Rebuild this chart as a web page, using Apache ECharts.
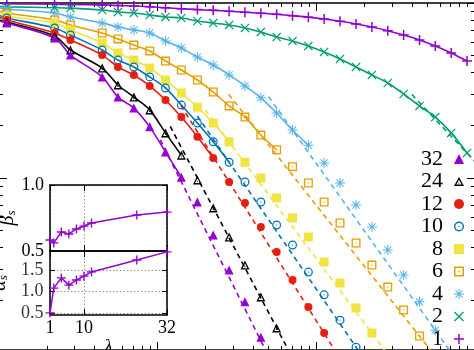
<!DOCTYPE html>
<html><head><meta charset="utf-8">
<script src="https://cdn.jsdelivr.net/npm/echarts@6/dist/echarts.min.js"></script>
<style>html,body{margin:0;padding:0;background:#fff}#c{width:474px;height:350px}</style>
</head><body><div id="c"></div>
<script>
// ---- data -------------------------------------------------------------
const times = [1.12, 2.24, 2.82, 4.47, 5.62, 7.08, 8.91, 11.2, 14.1, 17.8, 22.4, 28.2, 35.5, 44.7,
  56.2, 70.8, 89.1, 112, 141, 178, 224, 282, 355, 447, 562, 708, 891];

const surv1 = [0.99, 0.985, 0.98, 0.975, 0.968, 0.962, 0.952, 0.94, 0.928, 0.917, 0.908, 0.897, 0.886,
  0.874, 0.862, 0.846, 0.83, 0.81, 0.786, 0.759, 0.729, 0.695, 0.656, 0.615, 0.568, 0.518, 0.466];
const surv2 = [0.95, 0.94, 0.935, 0.912, 0.888, 0.877, 0.854, 0.832, 0.821, 0.789, 0.768, 0.749, 0.72,
  0.683, 0.639, 0.607, 0.568, 0.525, 0.479, 0.431, 0.388, 0.349, 0.302, 0.258, 0.223, 0.181, 0.139];
const surv4 = [0.924, 0.877, 0.832, 0.768, 0.729, 0.701, 0.674, 0.607, 0.553, 0.491, 0.442, 0.388, 0.336,
  0.287, 0.235, 0.188, 0.154, 0.122, 0.0936, 0.0701, 0.0525, 0.0388, 0.0279, 0.0196, 0.0135];
const surv6 = [0.877, 0.8, 0.749, 0.674, 0.623, 0.575, 0.532, 0.466, 0.414, 0.363, 0.31, 0.258, 0.223,
  0.176, 0.145, 0.116, 0.0936, 0.0729, 0.0553, 0.0425, 0.0318, 0.0238, 0.0176, 0.0125];
const surv8 = [0.843, 0.768, 0.701, 0.591, 0.518, 0.472, 0.425, 0.363, 0.306, 0.254, 0.206, 0.161, 0.123,
  0.1, 0.0769, 0.0591, 0.046, 0.0331, 0.0251, 0.0181, 0.013];
const surv10 = [0.821, 0.72, 0.656, 0.539, 0.472, 0.431, 0.378, 0.327, 0.261, 0.206, 0.161, 0.123, 0.0949,
  0.0729, 0.0539, 0.0414, 0.029, 0.0215, 0.0154, 0.0108];
const surv12 = [0.8, 0.674, 0.615, 0.504, 0.431, 0.388, 0.336, 0.279, 0.223, 0.172, 0.13, 0.0949, 0.072,
  0.0525, 0.0378, 0.0261, 0.0183, 0.013];
const surv24 = [0.779, 0.648, 0.539, 0.425, 0.34, 0.29, 0.245, 0.181, 0.135, 0.0974, 0.0674, 0.046, 0.0318,
  0.0209, 0.0139];
const surv32 = [0.768, 0.631, 0.504, 0.378, 0.29, 0.251, 0.196, 0.141, 0.101, 0.0729, 0.0472, 0.0298,
  0.0196, 0.0123];

// value of each fitted curve at t = 1 (left edge)
const fitStart = { '1': 1.0, '2': 0.955, '4': 0.94, '6': 0.9, '8': 0.87, '10': 0.85, '12': 0.83, '24': 0.8, '32': 0.79 };
// number of samples covered by the solid fit
const fitCount = { '1': 27, '2': 27, '4': 17, '6': 15, '8': 12, '10': 12, '12': 11, '24': 9, '32': 9 };
// power-law tails (two end points each)
const tail2 = [[400, 0.30], [1000, 0.124]];
const tail4 = [[50, 0.292], [800, 0.0086]];
const tail6 = [[28, 0.301], [600, 0.0089]];
const tail8 = [[20, 0.244], [300, 0.0091]];
const tail10 = [[17.8, 0.226], [250, 0.0069]];
const tail12 = [[14, 0.26], [150, 0.0085]];
const tail24 = [[12, 0.197], [80, 0.0076]];
const tail32 = [[10.4, 0.165], [60, 0.0069]];

// inset: exponents versus lambda
const lambdaVals = [1, 2, 4, 6, 8, 10, 12, 24, 32];
const betaS = [0.583, 0.561, 0.644, 0.629, 0.667, 0.689, 0.712, 0.773, 0.795];
const alphaS = [0.5, 1.08, 1.32, 1.15, 1.27, 1.36, 1.46, 1.74, 1.93];
const lambdaTicks = [1, 10, 32];
const betaTicks = [0.5, 1.0];
const alphaTicks = [0.5, 1.0, 1.5];

const legendOrder = ['32', '24', '12', '10', '8', '6', '4', '2', '1'];

// ---- styling ----------------------------------------------------------
const SERIF = 'Liberation Serif';
const PURPLE = '#9400d3';
const sym = {
  triOpen: 'path://M10,1L19.5,18L0.5,18Z M10,6.3L4.9,15.4L15.1,15.4Z M9,11.4L11,11.4L11,13.4L9,13.4Z',
  circOpen: 'path://M0,10A10,10 0 1,1 20,10A10,10 0 1,1 0,10Z M2.8,10A7.2,7.2 0 1,0 17.2,10A7.2,7.2 0 1,0 2.8,10Z M8.9,8.9L11.1,8.9L11.1,11.1L8.9,11.1Z',
  sqOpen: 'path://M0,0L20,0L20,20L0,20Z M3,3L3,17L17,17L17,3Z M8.7,8.7L11.3,8.7L11.3,11.3L8.7,11.3Z',
  plus: 'path://M8.5,0L11.5,0L11.5,8.5L20,8.5L20,11.5L11.5,11.5L11.5,20L8.5,20L8.5,11.5L0,11.5L0,8.5L8.5,8.5Z',
  cross: 'path://M1.06,-1.06L21.06,18.94L18.94,21.06L-1.06,1.06Z M21.06,1.06L1.06,21.06L-1.06,18.94L18.94,-1.06Z',
  star: 'path://M9,0L11,0L11,20L9,20Z M0,9L20,9L20,11L0,11Z M3.6,2.2L17.8,16.4L16.4,17.8L2.2,3.6Z M16.4,2.2L17.8,3.6L3.6,17.8L2.2,16.4Z'
};
const style = {
  '32': { color: PURPLE, symbol: 'triangle', size: 9 },
  '24': { color: '#000000', symbol: sym.triOpen, size: 9 },
  '12': { color: '#e51e10', symbol: 'circle', size: 8 },
  '10': { color: '#0072b2', symbol: sym.circOpen, size: 9 },
  '8':  { color: '#f0e442', symbol: 'rect', size: 9 },
  '6':  { color: '#e69f00', symbol: sym.sqOpen, size: 9 },
  '4':  { color: '#56b4e9', symbol: sym.star, size: 10 },
  '2':  { color: '#009e73', symbol: sym.cross, size: 9 },
  '1':  { color: PURPLE, symbol: sym.plus, size: 10 }
};
const survival = { '1': surv1, '2': surv2, '4': surv4, '6': surv6, '8': surv8, '10': surv10, '12': surv12, '24': surv24, '32': surv32 };
const tails = { '2': tail2, '4': tail4, '6': tail6, '8': tail8, '10': tail10, '12': tail12, '24': tail24, '32': tail32 };

// ---- axes -------------------------------------------------------------
const xMaj = [1, 10, 100, 1000];
const xMin = [];
[1, 10, 100].forEach(d => { for (let k = 2; k < 10; k++) xMin.push(k * d); });
const yMaj = [0.1, 1];
const yMin = [];
[0.01, 0.1].forEach(d => { for (let k = 2; k < 10; k++) yMin.push(+(k * d).toFixed(3)); });

const xAxes = [], yAxes = [];
[['bottom', xMaj, 8, true], ['bottom', xMin, 4, false], ['top', xMaj, 8, true], ['top', xMin, 4, false]]
  .forEach(([pos, vals, len, line]) => xAxes.push({
    type: 'log', logBase: 10, gridIndex: 0, min: 1, max: 1000, position: pos, offset: 0,
    axisLine: { show: line, lineStyle: { color: '#000', width: 1.5 } },
    axisTick: { show: true, inside: true, length: len, customValues: vals, lineStyle: { color: '#000', width: 1 } },
    axisLabel: { show: false }, splitLine: { show: false }
  }));
[['left', yMaj, 8, true], ['left', yMin, 4, false], ['right', yMaj, 8, true], ['right', yMin, 4, false]]
  .forEach(([pos, vals, len, line]) => yAxes.push({
    type: 'log', logBase: 10, gridIndex: 0, min: 0.0104, max: 1, position: pos, offset: 0,
    axisLine: { show: line, lineStyle: { color: '#000', width: 1.5 } },
    axisTick: { show: true, inside: true, length: len, customValues: vals, lineStyle: { color: '#000', width: 1 } },
    axisLabel: { show: false }, splitLine: { show: false }
  }));

const dotted = { show: true, lineStyle: { color: '#999', type: [1.5, 2], width: 1 } };
const insetLabel = { fontFamily: SERIF, fontSize: 18, color: '#000' };
function insetX(grid, pos, labels) {
  return {
    type: 'value', gridIndex: grid, min: 1, max: 32, position: pos, offset: 0,
    axisLine: { show: true, lineStyle: { color: '#000', width: 1.5 } },
    axisTick: { show: true, inside: true, length: 6, customValues: lambdaTicks, lineStyle: { color: '#000' } },
    axisLabel: labels ? Object.assign({ show: true, margin: 4, customValues: lambdaTicks }, insetLabel) : { show: false },
    splitLine: pos === 'bottom' ? dotted : { show: false },
    name: labels ? 'λ' : '', nameLocation: 'middle', nameGap: 17,
    nameTextStyle: { fontFamily: SERIF, fontSize: 18, fontStyle: 'italic', color: '#000' }
  };
}
function insetY(grid, pos, min, max, vals, name, gap, labels) {
  return {
    type: 'value', gridIndex: grid, min: min, max: max, position: pos, offset: 0,
    axisLine: { show: true, lineStyle: { color: '#000', width: 1.5 } },
    axisTick: { show: true, inside: true, length: 5, customValues: vals, lineStyle: { color: '#000' } },
    axisLabel: labels ? Object.assign({ show: true, margin: 6, customValues: vals,
      formatter: v => v.toFixed(1) }, insetLabel) : { show: false },
    splitLine: pos === 'left' ? dotted : { show: false },
    name: pos === 'left' ? name : '', nameLocation: 'middle', nameGap: gap, nameRotate: 90,
    nameTextStyle: { fontFamily: SERIF, fontSize: 20, color: '#000',
      rich: { g: { fontFamily: SERIF, fontSize: 20, fontStyle: 'italic' },
              s: { fontFamily: SERIF, fontSize: 13, fontStyle: 'italic', verticalAlign: 'bottom' } } }
  };
}
xAxes.push(insetX(1, 'bottom', false), insetX(1, 'top', false), insetX(2, 'bottom', true), insetX(2, 'top', false));
yAxes.push(insetY(1, 'left', 0.5, 1.0, betaTicks, '{g|β}{s|s}', 23, true), insetY(1, 'right', 0.5, 1.0, betaTicks),
  insetY(2, 'left', 0.45, 1.95, alphaTicks, '{g|α}{s|s}', 40, false), insetY(2, 'right', 0.45, 1.95, alphaTicks));

// ---- series -----------------------------------------------------------
const series = [];
legendOrder.slice().reverse().forEach(k => {
  const st = style[k];
  const vals = survival[k];
  const fit = [[1, fitStart[k]]].concat(vals.slice(0, fitCount[k]).map((v, i) => [times[i], v]));
  series.push({ type: 'line', name: k + ' fit', data: fit, smooth: 0.3, showSymbol: false, symbol: 'none',
    lineStyle: { color: st.color, width: 1.6 }, z: 2, silent: true, animation: false });
  if (tails[k]) series.push({ type: 'line', name: k + ' tail', data: tails[k], showSymbol: false, symbol: 'none',
    lineStyle: { color: st.color, width: 1.6, type: [5, 4] }, z: 2, silent: true, animation: false });
  series.push({ type: 'scatter', name: k, data: vals.map((v, i) => [times[i], v]), symbol: st.symbol,
    symbolSize: st.size, itemStyle: { color: st.color, opacity: 1 }, z: 3, animation: false });
});
const insetLine = { color: PURPLE, width: 1.5 };
series.push({ type: 'line', name: 'beta', xAxisIndex: 4, yAxisIndex: 4, data: lambdaVals.map((l, i) => [l, betaS[i]]),
  symbol: sym.plus, symbolSize: 9, showSymbol: true, lineStyle: insetLine, itemStyle: { color: PURPLE }, animation: false });
series.push({ type: 'line', name: 'alpha', xAxisIndex: 6, yAxisIndex: 6, data: lambdaVals.map((l, i) => [l, alphaS[i]]),
  symbol: sym.plus, symbolSize: 9, showSymbol: true, lineStyle: insetLine, itemStyle: { color: PURPLE }, animation: false });
// tick labels of the lower inset panel, anchored on its left edge
series.push({ type: 'scatter', name: 'alpha ticks', xAxisIndex: 6, yAxisIndex: 6, silent: true, clip: false,
  data: alphaTicks.map(v => [lambdaTicks[0], v]), symbol: 'circle', symbolSize: 1,
  itemStyle: { color: 'rgba(0,0,0,0)' }, z: 20, animation: false,
  label: { show: true, position: 'left', distance: 6, formatter: p => p.value[1].toFixed(1),
    fontFamily: SERIF, fontSize: 18, color: '#000' },
  labelLayout: { hideOverlap: false } });

const chart = echarts.init(document.getElementById('c'), null, { renderer: 'canvas' });
chart.setOption({
  backgroundColor: '#fff',
  animation: false,
  grid: [
    { left: -1, right: -1, top: 3, bottom: 0, outerBoundsMode: 'none', containLabel: false },
    { left: 50, top: 185, width: 117, height: 66, show: false, outerBoundsMode: 'none', containLabel: false },
    { left: 50, top: 251, width: 117, height: 64, show: false, outerBoundsMode: 'none', containLabel: false }
  ],
  xAxis: xAxes,
  yAxis: yAxes,
  legend: {
    orient: 'vertical', right: 10, top: 148, height: 400, align: 'right', padding: 0,
    itemWidth: 10, itemHeight: 10, itemGap: 0.5,
    data: legendOrder, selectedMode: false,
    textStyle: { fontFamily: SERIF, fontSize: 22, color: '#000', lineHeight: 20.5, padding: [0, 6, 0, 0] }
  },
  series: series
});
</script></body></html>
